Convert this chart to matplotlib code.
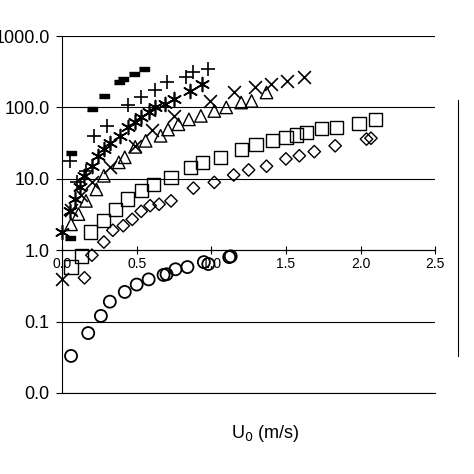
import matplotlib
matplotlib.use("Agg")
import matplotlib.pyplot as plt

plt.rcParams['font.family'] = ['Liberation Sans', 'DejaVu Sans']

# filled squares (dashes)
x_fill = [0.056, 0.063, 0.20, 0.28, 0.38, 0.41, 0.48, 0.55]
y_fill = [1.5, 23, 94, 145, 224, 247, 290, 350]
# plus
x_plus = [0.05, 0.10, 0.16, 0.215, 0.30, 0.44, 0.53, 0.62, 0.70, 0.83, 0.88, 0.98]
y_plus = [18, 9, 13, 40, 55, 107, 138, 174, 224, 263, 310, 340]
# asterisk
x_ast = [0.0, 0.052, 0.085, 0.12, 0.15, 0.20, 0.24, 0.28, 0.32, 0.39, 0.44, 0.49,
         0.53, 0.58, 0.62, 0.69, 0.75, 0.86, 0.94]
y_ast = [1.8, 3.5, 5.2, 7.6, 11, 15, 21, 26, 32, 40, 53, 62, 73, 85, 100, 110, 130, 170, 212]
# crosses
x_x = [0.0, 0.06, 0.13, 0.20, 0.32, 0.49, 0.60, 0.75, 0.99, 1.15, 1.29, 1.40, 1.51, 1.62]
y_x = [0.4, 3.7, 6, 9, 14.5, 29, 49, 76, 123, 163, 192, 212, 235, 263]
# triangles
x_tri = [0.06, 0.11, 0.16, 0.23, 0.28, 0.38, 0.42, 0.49, 0.56, 0.66, 0.71, 0.78, 0.85,
         0.93, 1.02, 1.10, 1.20, 1.27, 1.37]
y_tri = [2.3, 3.2, 4.9, 7.1, 11, 17, 20, 28, 34, 40, 49, 58, 68, 76, 89, 100, 117, 123, 162]
# open squares
x_sq = [0.06, 0.13, 0.19, 0.28, 0.36, 0.44, 0.53, 0.61, 0.73, 0.86, 0.94, 1.06, 1.20,
        1.30, 1.41, 1.50, 1.57, 1.64, 1.74, 1.84, 1.99, 2.10]
y_sq = [0.58, 0.83, 1.8, 2.6, 3.7, 5.2, 6.8, 8.4, 10.5, 14.5, 17, 20, 26, 30, 34, 38,
        41, 45, 51, 52, 60, 68]
# diamonds
x_dia = [0.15, 0.20, 0.28, 0.34, 0.41, 0.47, 0.53, 0.59, 0.65, 0.73, 0.88, 1.02, 1.15,
         1.25, 1.37, 1.50, 1.59, 1.69, 1.83, 2.04, 2.07]
y_dia = [0.41, 0.85, 1.3, 1.9, 2.2, 2.7, 3.5, 4.2, 4.4, 4.9, 7.4, 8.9, 11.3, 13.3, 15,
         19, 21, 24, 29, 36, 37]
# circles
x_circ = [0.06, 0.175, 0.26, 0.32, 0.42, 0.50, 0.58, 0.68, 0.70, 0.76, 0.84, 0.95, 0.98, 1.12, 1.13]
y_circ = [0.033, 0.069, 0.12, 0.19, 0.26, 0.33, 0.39, 0.45, 0.46, 0.54, 0.58, 0.68, 0.64, 0.8, 0.82]

fig = plt.figure(figsize=(4.74, 4.74), dpi=100)
ax = fig.add_axes([0.131, 0.171, 0.787, 0.753])

dash = [(-1, -0.5), (1, -0.5), (1, 0.5), (-1, 0.5)]
ax.scatter(x_fill, y_fill, marker=dash, s=45, c='black', clip_on=False)
ax.scatter(x_plus, y_plus, marker='+', s=100, c='black', linewidths=1.2, clip_on=False)
ax.scatter(x_ast, y_ast, marker=(6, 2, 0), s=100, c='black', linewidths=1.2, clip_on=False)
ax.scatter(x_x, y_x, marker='x', s=85, c='black', linewidths=1.2, clip_on=False)
ax.scatter(x_tri, y_tri, marker='^', s=80, facecolors='none', edgecolors='black', clip_on=False)
ax.scatter(x_sq, y_sq, marker='s', s=90, facecolors='none', edgecolors='black', clip_on=False)
ax.scatter(x_dia, y_dia, marker='D', s=40, facecolors='none', edgecolors='black', clip_on=False)
ax.scatter(x_circ, y_circ, marker='o', s=75, facecolors='none', edgecolors='black',
           linewidths=1.3, clip_on=False)

ax.set_yscale('log')
ax.set_ylim(0.01, 1000)
ax.set_xlim(0, 2.5)
ax.set_yticks([0.01, 0.1, 1, 10, 100, 1000])
ax.set_yticklabels(['0.0', '0.1', '1.0', '10.0', '100.0', '1000.0'], fontsize=13)
ax.minorticks_off()
ax.set_xticks([0, 0.5, 1.0, 1.5, 2.0, 2.5])
ax.set_xticklabels(['0.0', '0.5', '1.0', '1.5', '2.0', '2.5'], fontsize=13)
ax.yaxis.grid(True, color='black', linewidth=0.8)
ax.axhline(0.01, color='black', linewidth=0.8, clip_on=False)
ax.set_axisbelow(True)
ax.spines['bottom'].set_position(('data', 1))
ax.spines['top'].set_visible(False)
ax.spines['right'].set_visible(False)
ax.tick_params(axis='x', direction='inout', length=6, pad=2)
ax.tick_params(axis='y', direction='out', length=4, pad=5)
fig.text(0.56, 0.075, 'U$_0$ (m/s)', ha='center', fontsize=13)

# cut-off legend box edge
fig.add_artist(plt.Line2D([0.966, 0.966], [0.25, 0.79], color='black', linewidth=0.8))

fig.savefig('out.png', dpi=100)
